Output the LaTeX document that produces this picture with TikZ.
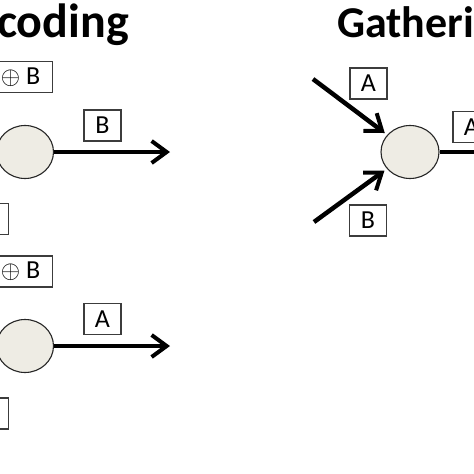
\documentclass[tikz,border=0pt]{standalone}
\usepackage{fontspec}
\setmainfont{Carlito}
\usetikzlibrary{shapes.geometric, arrows.meta, positioning}
\definecolor{cellfill}{RGB}{238,236,228}
\definecolor{boxgray}{RGB}{60,60,60}

\begin{document}
\begin{tikzpicture}[x=1pt, y=-1pt,
    title/.style={font=\fontsize{44}{44}\selectfont\bfseries, inner sep=0pt},
    label/.style={rectangle, draw=boxgray, line width=1.3pt, minimum width=37pt, minimum height=31pt, inner sep=0pt, font=\fontsize{26}{26}\selectfont},
    cell/.style={ellipse, draw=black!85, line width=1.1pt, fill=cellfill, minimum width=57pt, minimum height=53pt, inner sep=0pt},
    arrow/.style={-{Straight Barb[length=15pt, width=22pt, line width=4pt]}, line width=4.5pt, black},
    wire/.style={line width=4.5pt, black}
]
\useasboundingbox (0,0) rectangle (474,474);
\clip (0,0) rectangle (474,474);

% Titles
\node[title, font=\fontsize{48}{48}\selectfont\bfseries, anchor=base east] (tdec) at (129,37) {Decoding};
\node[title, anchor=base west] (tgat) at (337,37) {Gathering};

% Decoding, first row
\node[label, anchor=east, inner xsep=12pt] (x1) at (53,77) {A {\fontsize{36}{36}\selectfont$\oplus$} B};
\node[cell] (c1) at (25,152) {};
\node[label] (o1) at (102.5,125.5) {B};
\node[label, anchor=east] (k1) at (9,219) {};
\coordinate (e1) at (170,152);
\draw[arrow] (c1) -- (e1);

% Decoding, second row
\node[label, anchor=east, inner xsep=12pt] (x2) at (53,271.5) {A {\fontsize{36}{36}\selectfont$\oplus$} B};
\node[cell] (c2) at (25,346) {};
\node[label] (o2) at (102.5,319) {A};
\node[label, anchor=east] (k2) at (9,413.5) {};
\coordinate (e2) at (170,346);
\draw[arrow] (c2) -- (e2);

% Gathering
\node[cell, minimum width=58pt] (gc) at (410,152) {};
\node[label] (ga) at (368.5,83.5) {A};
\node[label] (gb) at (368,220.5) {B};
\node[label] (go) at (471.5,127) {A};
\coordinate (inA) at (313,79);
\coordinate (inB) at (314,222);
\coordinate (outG) at (520,152);
\draw[arrow, shorten >=3pt] (inA) -- (gc);
\draw[arrow, shorten >=3pt] (inB) -- (gc);
\draw[wire] (gc) -- (outG);

\end{tikzpicture}
\end{document}
